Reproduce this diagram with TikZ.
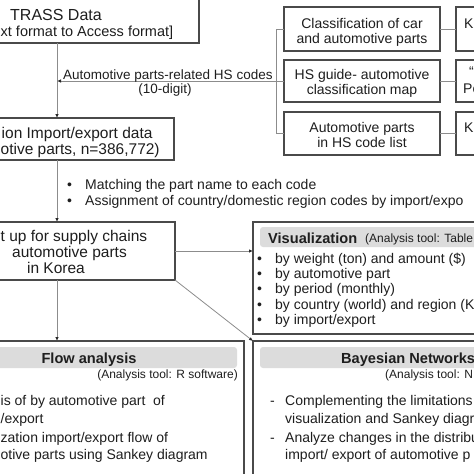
\documentclass[tikz,border=0pt]{standalone}
\usepackage{fontspec}
\setmainfont{Liberation Sans}
\usetikzlibrary{arrows.meta}
\definecolor{boxc}{HTML}{4A4A4A}
\definecolor{linec}{HTML}{8C8C8C}
\definecolor{barc}{HTML}{DCDCDC}
\definecolor{txtc}{HTML}{1E1E1E}
\definecolor{tipc}{HTML}{2A2A2A}
\begin{document}
\begin{tikzpicture}[x=1pt,y=-1pt,
  box/.style={draw=boxc, line width=1.2pt, fill=white, inner sep=0pt, outer sep=0pt, anchor=north west},
  conn/.style={draw=linec, line width=0.8pt},
  arr/.style={conn, -{Latex[length=4pt,width=3.5pt,color=tipc]}},
  bar/.style={fill=barc, rounded corners=3pt},
  t/.style={inner sep=0pt, anchor=base west, text=txtc, font=\fontsize{14}{15}\selectfont},
  te/.style={t, anchor=base east},
  tc/.style={t, anchor=base},
  big/.style={font=\fontsize{15.5}{17}\selectfont},
  ttl/.style={t, font=\fontsize{14.6}{16}\selectfont\bfseries},
  sml/.style={t, font=\fontsize{12}{13}\selectfont},
  lbl/.style={t, font=\fontsize{13.5}{15}\selectfont}
]
\useasboundingbox (0,0) rectangle (474,474);
\clip (0,0) rectangle (474,474);
\coordinate (spine) at (57,0);
\coordinate (brk) at (276,0);

% boxes
\node[box, minimum width=289pt, minimum height=63pt] (trass) at (-90,-20) {};
\node[box, minimum width=264pt, minimum height=42pt] (imp) at (-90,118) {};
\node[box, minimum width=265pt, minimum height=58pt] (setup) at (-90,222) {};
\node[box, minimum width=237pt, minimum height=112pt] (viz) at (253,222) {};
\node[box, minimum width=334pt, minimum height=149pt] (flow) at (-90,341) {};
\node[box, minimum width=237pt, minimum height=149pt] (bayes) at (253,341) {};
\node[box, minimum width=156pt, minimum height=44pt] (clsA) at (284,7) {};
\node[box, minimum width=156pt, minimum height=42pt] (clsB) at (284,60) {};
\node[box, minimum width=156pt, minimum height=43pt] (clsC) at (284,112) {};
\node[box, minimum width=64pt, minimum height=44pt] (farA) at (456,7) {};
\node[box, minimum width=64pt, minimum height=42pt] (farB) at (456,60) {};
\node[box, minimum width=64pt, minimum height=43pt] (farC) at (456,112) {};

% gray title bars
\fill[bar] (260,227) rectangle (490,247);
\fill[bar] (-20,347) rectangle (237,368);
\fill[bar] (260,347) rectangle (490,368);

% connectors
\draw[arr] (trass.south -| spine) -- (imp.north -| spine);
\draw[arr] (imp.south -| spine) -- (setup.north -| spine);
\draw[arr] (setup.south -| spine) -- (flow.north -| spine);
\draw[arr] (setup.east) -- (setup.east -| viz.west);
\draw[arr] (setup.south east) -- (bayes.north west);
\draw[conn] (clsA.west) -- (clsA.west -| brk) -- (clsC.west -| brk) -- (clsC.west);
\draw[conn] (clsB.west) -- (clsB.west -| brk);
\draw[arr] (clsB.west -| brk) -- (clsB.west -| spine);
\draw[conn] (clsA.east) -- (farA.west);
\draw[conn] (clsB.east) -- (farB.west);
\draw[conn] (clsC.east) -- (farC.west);

% texts: top-left
\node[t, font=\fontsize{16}{17}\selectfont] (trassT) at (10,20.5) {TRASS Data};
\node[t, font=\fontsize{14.5}{15}\selectfont] (trassS) at (0.5,36.5) {xt format to Access format]};
\node[lbl] (hsl) at (63,79) {Automotive parts-related HS codes};
\node[lbl, anchor=base] (hsd) at (165,93) {(10-digit)};
\node[t, big] (imp1) at (1.5,138) {ion Import/export data};
\node[t, big] (imp2) at (0.5,154) {otive parts, n=386,772)};
\node[t] (b1) at (67,189) {•};
\node[t] (b1t) at (85,189) {Matching the part name to each code};
\node[t] (b2) at (67,205) {•};
\node[t] (b2t) at (85,205) {Assignment of country/domestic region codes by import/expo};
\node[t, big] (su1) at (0.5,241) {t up for supply chains};
\node[te, big] (su2) at (127,257) {automotive parts};
\node[tc, big] (su3) at (56,273) {in Korea};

% right column
\node[tc] (a1) at (362,28) {Classification of car};
\node[tc] (a2) at (362,43) {and automotive parts};
\node[tc] (bb1) at (362,79) {HS guide- automotive};
\node[tc] (bb2) at (362,94) {classification map};
\node[tc] (c1) at (362,132) {Automotive parts};
\node[tc] (c2) at (362,147) {in HS code list};
\node[t] (fa) at (464,28) {K};
\node[t] (fb1) at (469,76) {“};
\node[t] (fb2) at (463,93) {Pe};
\node[t] (fc) at (464,132) {K};

% visualization
\node[ttl] (vizT) at (268,243) {Visualization};
\node[sml] (vizS) at (365,242) {(Analysis tool: Table};
\foreach \yy/\tx [count=\i] in {263/{by weight (ton) and amount (\$)},278/{by automotive part},293/{by period (monthly)},309/{by country (world) and region (K},324/{by import/export}}{
  \node[t] (vb\i) at (257,\yy) {•};
  \node[t] (vt\i) at (275,\yy) {\tx};
}

% flow analysis
\node[ttl, anchor=base] (flowT) at (89,363) {Flow analysis};
\node[sml, anchor=base east] (flowS) at (238,378) {(Analysis tool: R software)};
\node[t] (fl1) at (0.5,405) {is of by automotive part~ of};
\node[t] (fl2) at (0.5,423) {/export};
\node[t] (fl3) at (0.5,442) {zation import/export flow of};
\node[t] (fl4) at (0.5,459) {otive parts using Sankey diagram};

% bayesian
\node[ttl] (bayT) at (341,363) {Bayesian Networks};
\node[sml] (bayS) at (385,378) {(Analysis tool: N};
\node[t] (d1) at (270,405) {-};
\node[t] (by1) at (285,405) {Complementing the limitations};
\node[t] (by2) at (285,423) {visualization and Sankey diagram};
\node[t] (d2) at (270,442) {-};
\node[t] (by3) at (285,442) {Analyze changes in the distribut};
\node[t] (by4) at (285,459) {import/ export of automotive p};
\end{tikzpicture}
\end{document}
